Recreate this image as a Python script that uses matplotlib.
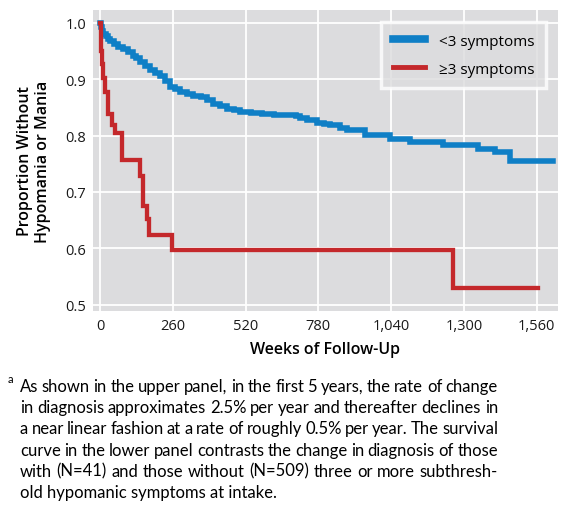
"""Survival curve: proportion without hypomania or mania by baseline symptom count."""

import matplotlib

matplotlib.use("Agg")
import matplotlib.pyplot as plt  # noqa: E402
from matplotlib.lines import Line2D  # noqa: E402

plt.rcParams["font.family"] = ["Open Sans", "DejaVu Sans"]

# step curves (week at which the step starts, survival after it)
blue_weeks = [0, 4, 8, 12, 20, 28, 36, 50, 65, 82, 100, 118, 130, 143, 160, 179,
              195, 214, 232, 250, 268, 286, 310, 332, 360, 382, 404, 430, 454,
              478, 500, 540, 580, 620, 700, 714, 739, 775, 800, 821, 857, 882,
              946, 1036, 1107, 1225, 1350, 1411, 1464]
blue_vals = [1.0, 0.993, 0.986, 0.981, 0.976, 0.972, 0.968, 0.962, 0.958, 0.954,
             0.948, 0.942, 0.937, 0.931, 0.924, 0.917, 0.912, 0.905, 0.897, 0.886,
             0.882, 0.878, 0.874, 0.870, 0.868, 0.864, 0.856, 0.852, 0.848, 0.845,
             0.842, 0.840, 0.838, 0.837, 0.835, 0.832, 0.828, 0.823, 0.821, 0.818,
             0.814, 0.810, 0.801, 0.794, 0.789, 0.783, 0.777, 0.771, 0.754]
blue_end = 1617

red_weeks = [0, 2, 6, 11, 19, 29, 43, 54, 77, 143, 155, 167, 176, 256, 1262]
red_vals = [1.0, 0.951, 0.927, 0.902, 0.878, 0.838, 0.818, 0.805, 0.756, 0.729,
            0.675, 0.652, 0.623, 0.596, 0.529]
red_end = 1563

x_ticks = [0, 260, 520, 780, 1040, 1300, 1560]
x_tick_labels = ["0", "260", "520", "780", "1,040", "1,300", "1,560"]
y_ticks = [0.5, 0.6, 0.7, 0.8, 0.9, 1.0]

series_labels = ["<3 symptoms", "\u22653 symptoms"]

caption_lines = [
    "As shown in the upper panel, in the first 5 years, the rate of change",
    "in diagnosis approximates 2.5% per year and thereafter declines in",
    "a near linear fashion at a rate of roughly 0.5% per year. The survival",
    "curve in the lower panel contrasts the change in diagnosis of those",
    "with (N=41) and those without (N=509) three or more subthresh-",
    "old hypomanic symptoms at intake.",
]

BLUE = "#0f7fc6"
RED = "#c4282b"
BG = "#dcdcde"

W, H = 587, 510
fig = plt.figure(figsize=(W / 100, H / 100), dpi=100)
ax = fig.add_axes([93 / W, 1 - 312 / H, (558 - 93) / W, (312 - 11) / H])
ax.set_facecolor(BG)
for s in ax.spines.values():
    s.set_visible(False)
ax.grid(True, color="white", lw=1.3)
ax.set_axisbelow(True)

ax.step(blue_weeks + [blue_end], blue_vals + [blue_vals[-1]], where="post",
        color=BLUE, lw=4.0, solid_joinstyle="miter")
ax.step(red_weeks + [red_end], red_vals + [red_vals[-1]], where="post",
        color=RED, lw=3.1, solid_joinstyle="miter")

ax.set_xlim(-25, 1636)
ax.set_ylim(0.4885, 1.023)
ax.set_xticks(x_ticks, x_tick_labels)
ax.set_yticks(y_ticks, [f"{v:.1f}" for v in y_ticks])
ax.tick_params(length=0, labelsize=10.5, pad=5, colors="#1a1a1a")
ax.set_xlabel("Weeks of Follow-Up", fontsize=11.5, fontweight="semibold", labelpad=6)
ax.set_ylabel("Proportion Without\nHypomania or Mania", fontsize=11.5,
              fontweight="semibold", labelpad=10, linespacing=1.2)

handles = [Line2D([], [], color=BLUE, lw=5.5), Line2D([], [], color=RED, lw=3.5)]
leg = ax.legend(handles, series_labels, loc="upper right", fontsize=11,
                frameon=True, fancybox=False, handlelength=2.1, handletextpad=0.9,
                borderpad=0.75, labelspacing=0.85, bbox_to_anchor=(0.99, 0.985))
leg.get_frame().set_facecolor(BG)
leg.get_frame().set_edgecolor("white")
leg.get_frame().set_linewidth(2.5)

# caption, justified to a fixed width
cap_font = ["Lato", "DejaVu Sans"]
fs = 12.0
x0, x1 = 20 / W, 498 / W
fig.text(8 / W, 1 - 383 / H, "a", fontsize=8, va="baseline", ha="left", family=cap_font)
renderer = fig.canvas.get_renderer()
for i, line in enumerate(caption_lines):
    y = 1 - (392 + i * 21.2) / H
    if i == len(caption_lines) - 1:
        fig.text(x0, y, line, fontsize=fs, va="baseline", ha="left", family=cap_font)
        continue
    words = line.split(" ")
    widths = []
    for w in words:
        t = fig.text(0, 0, w, fontsize=fs, family=cap_font)
        widths.append(t.get_window_extent(renderer).width / W)
        t.remove()
    gap = (x1 - x0 - sum(widths)) / (len(words) - 1)
    x = x0
    for w, wd in zip(words, widths):
        fig.text(x, y, w, fontsize=fs, va="baseline", ha="left", family=cap_font)
        x += wd + gap

fig.savefig("out.png", dpi=100)
